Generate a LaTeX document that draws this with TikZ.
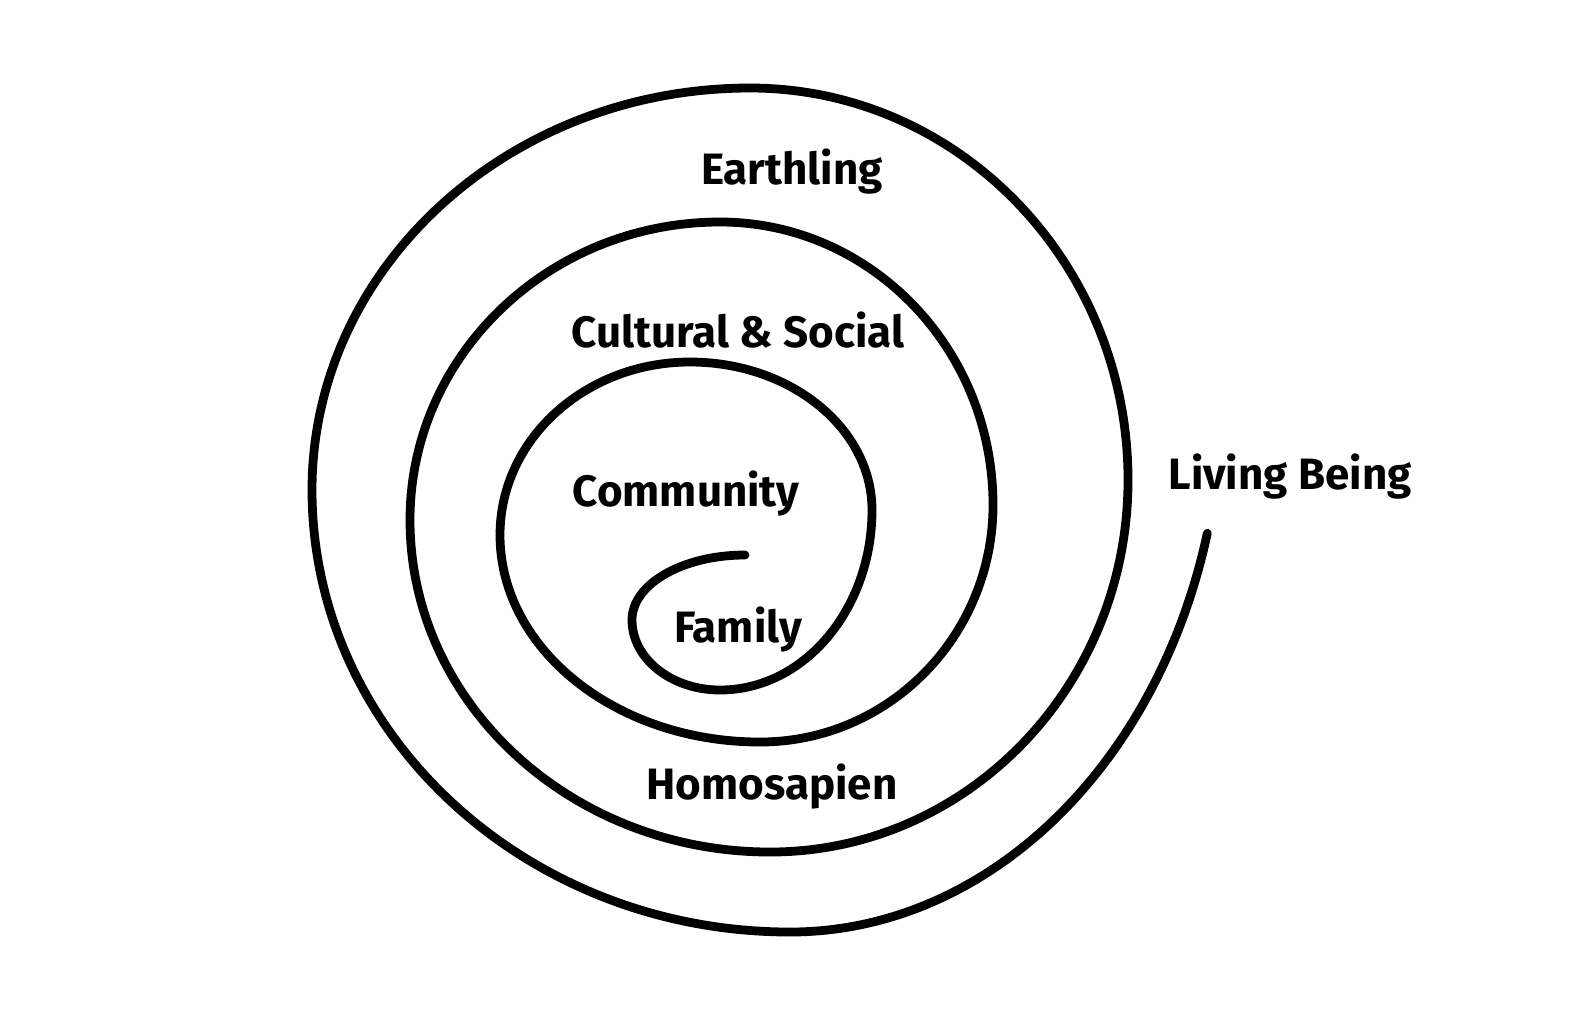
\documentclass[tikz,border=0pt]{standalone}
\usepackage{fontspec}
\setmainfont{Fira Sans}
\begin{document}
\begin{tikzpicture}[lbl/.style={font=\bfseries\fontsize{12.5}{15}\selectfont,inner sep=0pt}]
\useasboundingbox (0,0) rectangle (15.83,-10.24);
\draw[line width=2.5pt,line cap=round] (7.45,-5.55)
 arc[start angle=90,end angle=180,x radius=1.13cm,y radius=0.65cm]
 arc[start angle=180,end angle=270,x radius=0.88cm,y radius=0.70cm]
 arc[start angle=270,end angle=360,x radius=1.52cm,y radius=1.80cm]
 arc[start angle=0,end angle=90,x radius=1.82cm,y radius=1.48cm]
 arc[start angle=90,end angle=180,x radius=1.90cm,y radius=1.73cm]
 arc[start angle=180,end angle=270,x radius=2.60cm,y radius=2.07cm]
 arc[start angle=270,end angle=360,x radius=2.33cm,y radius=2.37cm]
 arc[start angle=0,end angle=90,x radius=2.73cm,y radius=2.83cm]
 arc[start angle=90,end angle=180,x radius=3.10cm,y radius=2.98cm]
 arc[start angle=180,end angle=270,x radius=3.60cm,y radius=3.32cm]
 arc[start angle=270,end angle=360,x radius=3.58cm,y radius=3.72cm]
 arc[start angle=0,end angle=90,x radius=3.78cm,y radius=3.92cm]
 arc[start angle=90,end angle=180,x radius=4.38cm,y radius=4.02cm]
 arc[start angle=180,end angle=270,x radius=4.78cm,y radius=4.42cm]
 arc[start angle=270,end angle=345,x radius=4.32cm,y radius=5.38cm];
\node[lbl] (e) at (7.92,-1.72) {Earthling};
\node[lbl] (c) at (7.38,-3.30) {Cultural \& Social};
\node[lbl] (m) at (6.86,-4.94) {Community};
\node[lbl] (f) at (7.38,-6.30) {Family};
\node[lbl] (h) at (7.72,-7.87) {Homosapien};
\node[lbl] (l) at (12.90,-4.77) {Living Being};
\end{tikzpicture}
\end{document}
